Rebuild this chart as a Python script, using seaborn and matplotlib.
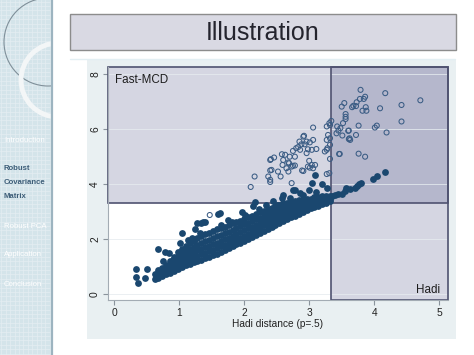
import numpy as np
import pandas as pd
import matplotlib.pyplot as plt
import seaborn as sns
from matplotlib.patches import Rectangle, Circle

# ---- values ----
cut_mcd = 3.33   # Fast-MCD cutoff (y)
cut_hadi = 3.33  # Hadi cutoff (x)

# dense body of the regular points, one column of y values per x
band_x = [0.62, 0.68, 0.74, 0.80, 0.86, 0.92, 0.98, 1.04, 1.10, 1.16, 1.22, 1.28,
          1.34, 1.40, 1.46, 1.52, 1.58, 1.64, 1.70, 1.76, 1.82, 1.88, 1.94, 2.00,
          2.06, 2.12, 2.18, 2.24, 2.30, 2.36, 2.42, 2.48, 2.54, 2.60, 2.66, 2.72,
          2.78, 2.84, 2.90, 2.96, 3.02, 3.08, 3.14, 3.20, 3.26, 3.32]
band_y = [
    [0.55, 0.72], [0.60, 0.75, 0.88], [0.66, 0.82, 0.96], [0.72, 0.90, 1.08],
    [0.78, 0.95, 1.10, 1.22], [0.84, 1.00, 1.18, 1.35], [0.90, 1.06, 1.22, 1.40, 1.55],
    [0.98, 1.14, 1.30, 1.48, 1.66], [1.05, 1.22, 1.40, 1.58, 1.76],
    [1.10, 1.28, 1.46, 1.64, 1.85], [1.16, 1.34, 1.52, 1.72, 1.95],
    [1.21, 1.40, 1.60, 1.80, 2.05], [1.26, 1.45, 1.65, 1.85, 2.12],
    [1.32, 1.50, 1.70, 1.92, 2.18], [1.37, 1.56, 1.76, 1.98, 2.24],
    [1.43, 1.62, 1.82, 2.04, 2.30], [1.48, 1.68, 1.88, 2.10, 2.36],
    [1.54, 1.74, 1.94, 2.16, 2.40], [1.61, 1.80, 2.00, 2.22, 2.46],
    [1.68, 1.86, 2.06, 2.28, 2.52], [1.75, 1.94, 2.12, 2.34, 2.58],
    [1.81, 2.00, 2.20, 2.42, 2.63], [1.88, 2.06, 2.26, 2.48, 2.68],
    [1.95, 2.13, 2.32, 2.54, 2.74], [2.02, 2.20, 2.40, 2.60, 2.80],
    [2.09, 2.27, 2.46, 2.66, 2.86], [2.17, 2.35, 2.53, 2.72, 2.92],
    [2.24, 2.42, 2.60, 2.78, 2.98], [2.31, 2.50, 2.68, 2.86, 3.04],
    [2.38, 2.56, 2.74, 2.92, 3.10], [2.45, 2.63, 2.81, 2.98, 3.14],
    [2.53, 2.70, 2.87, 3.04, 3.19], [2.59, 2.76, 2.93, 3.10, 3.24],
    [2.66, 2.82, 2.98, 3.14, 3.30], [2.72, 2.88, 3.04, 3.19, 3.33],
    [2.79, 2.94, 3.09, 3.23, 3.36], [2.85, 3.00, 3.14, 3.27, 3.39],
    [2.92, 3.06, 3.20, 3.32, 3.42], [2.98, 3.12, 3.25, 3.36, 3.45],
    [3.05, 3.18, 3.30, 3.40, 3.48], [3.12, 3.24, 3.36, 3.48],
    [3.17, 3.30, 3.42, 3.52], [3.22, 3.34, 3.45, 3.54], [3.27, 3.38, 3.48, 3.56],
    [3.32, 3.42, 3.52, 3.58], [3.38, 3.48, 3.58],
]

# scattered filled points (edges of the body and the tail past the Hadi cutoff)
solid_x = [0.34, 0.51, 0.33, 0.48, 0.37, 0.68, 0.78, 0.85, 0.75, 0.90, 1.01, 1.04,
           1.13, 1.19, 1.24, 1.27, 1.33, 1.32, 1.37, 1.40, 1.60, 1.63, 1.65, 1.75,
           1.81, 1.96, 2.01, 2.14, 2.16, 2.22, 2.34, 2.45, 2.50, 2.58, 2.60, 2.70,
           2.75, 2.78, 2.86, 2.90, 3.00, 3.04, 3.09, 3.10, 3.20, 3.27, 3.35, 3.40,
           3.45, 3.50, 3.55, 3.57, 3.62, 3.70, 3.73, 3.76, 3.79, 3.98, 4.05, 4.16]
solid_y = [0.93, 0.91, 0.64, 0.58, 0.40, 1.64, 1.55, 1.49, 1.20, 1.25, 1.88, 2.22,
           1.97, 2.04, 2.36, 2.58, 2.60, 2.22, 2.64, 2.64, 2.92, 2.95, 2.52, 2.70,
           2.64, 3.00, 2.88, 3.19, 3.37, 3.10, 3.25, 3.40, 3.25, 3.51, 3.61, 3.50,
           3.79, 3.79, 3.67, 3.60, 3.79, 4.05, 4.34, 3.70, 3.99, 3.88, 3.58, 3.62,
           3.66, 3.64, 3.75, 3.85, 3.82, 3.88, 3.93, 3.99, 4.04, 4.20, 4.31, 4.46]

# hollow markers (flagged points)
hollow_x = [3.79, 4.17, 4.71, 4.42, 3.78, 3.84, 3.73, 3.87, 3.82, 3.88, 3.66, 3.72,
            3.54, 3.50, 4.09, 3.56, 3.56, 4.42, 3.76, 4.04, 4.01, 4.19, 3.34, 3.27,
            3.32, 3.43, 3.48, 3.42, 3.51, 3.60, 3.72, 3.62, 3.29, 3.32, 3.27, 3.32,
            3.46, 3.76, 3.86, 3.32, 3.27, 3.06, 2.92, 3.06, 2.96, 2.88, 2.93, 3.11,
            2.98, 2.96, 2.86, 2.75, 2.63, 2.70, 2.78, 2.68, 3.00, 3.09, 3.01, 2.91,
            2.65, 2.59, 2.73, 2.78, 3.27, 2.73, 2.56, 2.91, 3.01, 2.58, 2.46, 2.41,
            2.52, 2.40, 2.68, 2.89, 2.98, 3.06, 2.16, 2.37, 2.40, 2.10, 1.47, 3.86,
            3.31, 3.45, 3.63, 3.28, 3.24, 2.85, 2.83, 3.04, 2.80, 2.40, 2.60, 2.69,
            2.75, 2.42, 2.40, 3.04, 3.31, 3.61, 3.61, 3.52, 3.56, 3.68, 3.47]
hollow_y = [7.43, 7.31, 7.05, 6.88, 7.10, 7.10, 6.98, 6.80, 6.67, 6.67, 6.80, 6.84,
            6.95, 6.82, 6.76, 6.55, 6.37, 6.28, 6.13, 6.13, 6.06, 5.88, 6.30, 6.10,
            6.15, 6.10, 6.04, 5.85, 5.77, 5.94, 5.79, 5.67, 5.79, 5.67, 5.61, 5.43,
            5.10, 5.11, 5.00, 4.92, 5.25, 6.06, 5.76, 5.61, 5.55, 5.45, 5.45, 5.28,
            5.27, 5.13, 5.25, 5.21, 5.07, 5.00, 5.00, 4.79, 4.85, 4.70, 4.60, 4.48,
            4.58, 4.70, 4.64, 4.68, 4.37, 4.04, 4.28, 5.73, 5.52, 5.09, 4.97, 4.91,
            4.46, 4.50, 4.46, 4.50, 4.64, 4.58, 4.28, 4.28, 4.08, 3.90, 2.88, 7.18,
            6.22, 5.95, 5.61, 5.31, 5.19, 5.55, 5.35, 5.25, 5.31, 4.88, 4.88, 4.76,
            4.67, 4.52, 4.16, 4.70, 4.40, 5.64, 5.95, 6.22, 6.45, 6.85, 5.10]

x_ticks = [0, 1, 2, 3, 4, 5]
y_ticks = [0, 2, 4, 6, 8]

menu = ["Introduction", "Robust", "Covariance", "Matrix", "Robust PCA", "Application", "Conclusion"]
menu_active = [False, True, True, True, False, False, False]

# ---- tables ----
band = pd.DataFrame({"x": band_x, "y": band_y}).explode("y")
band["y"] = band["y"].astype(float)
solid = pd.concat([band, pd.DataFrame({"x": solid_x, "y": solid_y})], ignore_index=True)
hollow = pd.DataFrame({"x": hollow_x, "y": hollow_y})

sns.set_theme(style="white")
plt.rcParams['font.family'] = ['Liberation Sans', 'DejaVu Sans']

W, H = 474, 355
fig = plt.figure(figsize=(W / 100, H / 100), dpi=100)
fig.patch.set_facecolor("white")

# slide background, drawn in pixel units
bg = fig.add_axes([0, 0, 1, 1])
bg.set_xlim(0, W)
bg.set_ylim(H, 0)
bg.axis("off")

side = Rectangle((0, 0), 52, H, fc="#d4e4ea", ec="none")
bg.add_patch(side)
for g in np.arange(1.5, 52, 4.4):
    bg.plot([g, g], [0, H], color="#e4eef2", lw=0.5, zorder=1)
for g in np.arange(1.5, H, 4.4):
    bg.plot([0, 52], [g, g], color="#e4eef2", lw=0.5, zorder=1)
bg.plot([52, 52], [0, H], color="#9db4c0", lw=1.6, zorder=3)
c1 = Circle((48, 42), 44, fill=False, ec="#7f8f99", lw=0.8, zorder=2)
c2 = Circle((58, 80), 37, fill=False, ec="#f3f6f7", lw=3.5, zorder=2)
for c in (c1, c2):
    bg.add_patch(c)
    c.set_clip_path(side)

ys_menu = [140, 169, 183, 196, 226, 255, 285]
for label, yy, act in zip(menu, ys_menu, menu_active):
    bg.text(4, yy, label, fontsize=5.6, va="center", ha="left",
            color="#3d5d78" if act else "white",
            fontweight="bold" if act else "normal", zorder=4)

# title bar
bg.add_patch(Rectangle((70, 14), 385.7, 36, fc="#d9d9e3", ec="#8c8c8c", lw=1))
bg.text(263, 32.5, "Illustration", fontsize=18, color="#24242e", ha="center", va="center")
bg.plot([70, 455], [59, 59], color="#e3eff3", lw=1)

# graph region
bg.add_patch(Rectangle((87, 58.5), 369, 280, fc="#e9f0f2", ec="none"))

# ---- plot ----
x0, x1 = -0.10, 5.14
y0, y1 = -0.21, 8.25
ax = fig.add_axes([107.7 / W, (H - 300) / H, (448.3 - 107.7) / W, (300 - 67.3) / H])
ax.set_facecolor("white")
ax.set_xlim(x0, x1)
ax.set_ylim(y0, y1)

shade = "#595c8c"
ax.add_patch(Rectangle((x0, cut_mcd), x1 - x0, y1 - cut_mcd, fc=shade, alpha=0.25, ec="none", zorder=1))
ax.add_patch(Rectangle((cut_hadi, y0), x1 - cut_hadi, y1 - y0, fc=shade, alpha=0.25, ec="none", zorder=1))

for v in y_ticks:
    ax.axhline(v, color="#e6ebef", lw=0.7, alpha=0.8, zorder=1.5)

edge = "#4f5270"
ax.add_patch(Rectangle((x0, cut_mcd), x1 - x0, y1 - cut_mcd, fill=False, ec=edge, lw=1.2, zorder=2, clip_on=False))
ax.add_patch(Rectangle((cut_hadi, y0), x1 - cut_hadi, y1 - y0, fill=False, ec=edge, lw=1.2, zorder=2, clip_on=False))

navy = "#1a476f"
sns.scatterplot(data=solid, x="x", y="y", color=navy, s=24, linewidth=0, ax=ax, zorder=3)
sns.scatterplot(data=hollow, x="x", y="y", color="#3a5c84", facecolor="none",
                edgecolor="#3a5c84", s=13, linewidth=0.75, ax=ax, zorder=3)

ax.text(0.02, 7.8, "Fast-MCD", fontsize=8.4, color="#1e1e1e", ha="left", va="center", zorder=4)
ax.text(5.01, 0.16, "Hadi", fontsize=8.4, color="#1e1e1e", ha="right", va="center", zorder=4)

ax.set_xticks(x_ticks)
ax.set_yticks(y_ticks)
ax.tick_params(axis="both", length=3.5, width=0.8, color="#8a949c", labelsize=7.4,
               labelcolor="#222222", pad=2, bottom=True, left=True)
for t in ax.get_yticklabels():
    t.set_rotation(90)
    t.set_va("center")
ax.set_xlabel("Hadi distance (p=.5)", fontsize=7.3, color="#222222", labelpad=1)
ax.set_ylabel("")
for s in ("top", "right"):
    ax.spines[s].set_visible(False)
for s in ("left", "bottom"):
    ax.spines[s].set_color("#a3acb4")
    ax.spines[s].set_linewidth(0.8)

fig.savefig("out.png", dpi=100)
